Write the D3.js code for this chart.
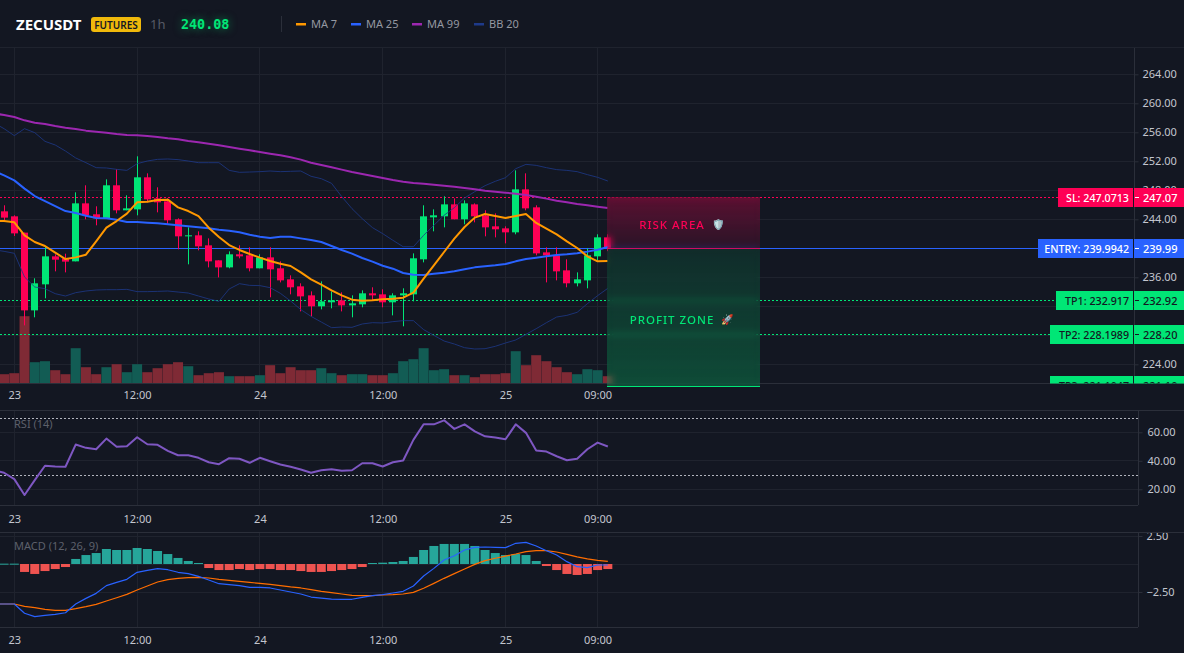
<!DOCTYPE html>
<html>
<head>
<meta charset="utf-8">
<script src="https://cdn.jsdelivr.net/npm/d3@7"></script>
<style>
  html, body { margin: 0; padding: 0; background: #131722; overflow: hidden; }
  #chart { position: relative; width: 1184px; height: 653px; font-family: "Noto Sans", sans-serif; }
  svg { position: absolute; left: 0; top: 0; }
  .zone { position: absolute; backdrop-filter: blur(3px); display: flex; align-items: center; justify-content: center;
          font-size: 11.5px; font-weight: 500; letter-spacing: 1px; white-space: pre; box-sizing: border-box; padding: 3px 4px 0 0; }
  .zone span { font-size: 10px; letter-spacing: 0; margin-left: 7px; }
</style>
</head>
<body>
<div id="chart"></div>
<script>
// hours since 23 00:00, one candle per hour
const hours = d3.range(-2, 59)

const opens = [244.9,245.10,244.41,242.16,231.44,235.03,238.89,238.62,238.20,246.20,244.69,244.13,248.69,245.24,245.37,249.79,246.89,246.48,244.00,241.65,241.79,240.41,238.34,237.37,239.17,239.03,237.24,238.75,237.24,235.72,234.75,233.51,232.00,232.55,232.82,232.13,232.27,233.79,233.65,232.55,233.51,233.65,238.48,244.27,244.41,246.06,244.00,246.06,244.55,243.03,242.75,242.20,248.13,245.65,239.44,239.03,236.96,235.17,235.58,238.89,241.51]
const highs = [245.3,245.93,244.55,242.16,235.86,240.18,239.17,239.26,247.72,248.69,245.79,249.51,250.89,247.31,252.69,250.34,248.41,246.89,244.13,242.89,242.34,241.37,238.34,239.58,240.41,240.13,239.17,240.13,238.20,236.27,235.17,234.06,235.44,234.06,233.93,233.51,234.20,234.62,234.34,233.79,234.48,239.30,245.93,245.37,247.17,246.89,246.62,246.20,245.24,244.82,243.03,250.75,250.34,245.93,240.13,240.13,238.48,236.68,240.00,241.93,241.93]
const lows = [244.6,243.86,241.70,229.37,230.48,233.10,236.82,236.68,238.20,244.00,243.17,244.13,244.82,245.24,244.55,246.34,244.96,243.31,239.86,237.79,239.72,237.37,235.99,237.24,238.62,236.82,237.24,233.24,235.30,233.65,231.30,230.62,231.58,231.72,231.30,230.48,231.86,232.82,231.86,230.75,229.24,232.68,238.06,242.34,242.89,244.00,243.31,243.58,241.65,241.51,240.68,241.93,245.24,239.03,235.30,235.58,234.62,234.75,234.48,238.34,239.60]
const closes = [245.1,244.23,242.06,231.44,235.17,238.89,238.43,238.16,246.20,244.55,244.13,248.69,245.24,245.51,249.79,246.75,246.34,243.86,241.65,241.79,240.27,238.20,237.37,239.17,238.89,237.24,238.75,237.10,235.58,234.62,233.37,232.00,232.68,232.82,232.13,232.41,233.79,233.51,232.55,233.51,233.79,238.62,244.41,244.55,246.06,244.00,246.20,244.41,242.89,242.62,242.20,248.13,245.51,239.30,239.03,236.82,235.17,235.72,239.03,241.51,240.08]
const volumes = [9,9.3,10.3,67.3,21.3,22.3,13.3,9.3,35.3,16.3,9.3,16.3,19.3,11.3,19.3,11.3,15.3,19.3,21.3,17.3,8.3,10.3,11.3,7.3,7.3,7.3,8.3,18.3,10.3,16.3,13.3,13.3,15.3,10.3,8.3,9.3,9.3,8.3,8.3,10.3,22.3,24.3,35.3,13.3,14.3,8.3,8.3,6.3,9.3,9.3,10.3,32.3,18.3,28.3,22.3,16.3,11.3,9.3,14.3,13.3,7.3]

const ma7 = [243.80,243.76,243.58,241.79,240.87,240.32,239.40,238.52,238.75,239.12,240.96,242.85,243.76,244.78,246.34,246.43,246.66,246.71,245.65,245.14,244.45,242.85,241.56,240.45,239.77,239.21,238.71,238.25,237.88,237.56,236.68,235.72,234.98,234.20,233.51,232.91,232.78,232.82,232.96,233.05,233.19,233.88,235.81,237.65,239.49,241.33,242.94,244.23,244.73,244.45,244.18,244.45,244.73,243.49,242.71,241.93,240.96,240.04,238.89,238.20,238.25]
const ma25 = [250.65,250.06,249.37,248.23,247.21,246.52,245.83,245.14,244.87,244.50,244.18,244.13,243.95,243.63,243.63,243.54,243.44,243.31,243.17,243.03,242.89,242.75,242.57,242.43,242.20,241.88,241.60,241.42,241.60,241.60,241.37,241.14,240.87,240.32,239.77,239.26,238.66,238.16,237.60,237.19,236.59,236.36,236.32,236.50,236.64,236.82,237.10,237.37,237.51,237.65,237.83,238.20,238.52,238.71,238.89,239.08,239.17,239.31,239.54,239.81,240.18]
const ma99 = [258.60,258.39,258.11,257.65,257.33,257.15,256.87,256.64,256.46,256.23,256.09,255.95,255.77,255.63,255.58,255.49,255.35,255.17,255.03,254.80,254.62,254.43,254.20,253.97,253.74,253.51,253.28,253.05,252.82,252.55,252.23,251.81,251.49,251.17,250.85,250.52,250.25,249.97,249.70,249.42,249.19,249.01,248.91,248.78,248.64,248.50,248.32,248.13,247.95,247.81,247.67,247.54,247.35,247.12,246.85,246.57,246.34,246.11,245.93,245.74,245.56]
const bbUpper = [257.30,256.50,255.54,256.50,255.95,254.75,254.25,253.42,252.46,251.81,251.12,251.08,250.89,250.75,251.67,252.04,252.27,252.32,252.23,252.04,251.81,251.81,251.81,250.75,250.48,250.52,250.57,250.66,250.57,250.62,250.66,249.93,249.60,248.96,247.12,245.47,244.09,242.85,242.02,241.10,240.22,240.22,241.79,243.17,244.55,245.60,246.94,247.81,248.64,249.24,249.74,250.98,251.58,251.44,251.12,250.85,250.75,250.57,250.16,249.79,249.28]
const bbLower = [239.80,239.58,239.31,236.04,234.66,234.43,233.74,233.42,233.88,234.11,234.25,234.29,234.29,234.34,234.02,234.02,234.06,234.11,233.97,233.83,233.42,233.01,232.68,234.39,235.12,234.89,234.85,234.57,233.79,232.73,231.54,230.61,229.83,229.05,229.14,229.10,229.56,229.74,229.70,229.88,230.02,230.02,228.78,227.99,227.21,226.80,226.29,226.11,226.15,226.48,226.94,227.35,228.13,228.91,229.74,230.52,230.75,231.17,232.36,233.47,234.48]

const rsi = [33.4,31.6,27.15,16.0,26.45,36.5,36.0,35.8,51.4,49.1,48.1,55.6,49.8,50.2,56.5,51.6,51.2,47.0,43.9,43.9,42.1,39.0,37.6,41.8,41.4,38.6,42.1,39.7,37.4,35.8,33.9,31.6,33.4,34.1,33.0,33.4,38.3,38.3,36.0,39.0,40.2,54.7,65.6,65.6,68.4,62.4,65.6,60.7,57.2,56.3,55.1,65.6,59.6,47.2,46.5,43.2,40.4,41.4,48.1,52.8,50.0]

const macd = [-3.57,-3.57,-3.57,-4.40,-4.70,-4.58,-4.49,-4.35,-3.57,-3.07,-2.62,-1.93,-1.64,-1.37,-0.74,-0.57,-0.42,-0.51,-0.74,-0.86,-1.10,-1.43,-1.76,-1.85,-1.93,-2.08,-2.08,-2.14,-2.32,-2.50,-2.68,-2.95,-3.04,-3.13,-3.15,-3.15,-2.98,-2.83,-2.74,-2.59,-2.44,-1.96,-1.07,-0.39,0.36,0.74,1.25,1.49,1.52,1.49,1.46,1.85,1.93,1.61,1.19,0.80,0.21,-0.24,-0.33,-0.09,-0.09]
const signal = [-3.57,-3.57,-3.57,-3.78,-3.90,-4.05,-4.14,-4.14,-3.99,-3.81,-3.60,-3.30,-3.01,-2.71,-2.32,-1.96,-1.61,-1.40,-1.28,-1.22,-1.19,-1.25,-1.37,-1.46,-1.55,-1.64,-1.73,-1.82,-1.93,-2.05,-2.14,-2.29,-2.44,-2.56,-2.68,-2.80,-2.83,-2.83,-2.77,-2.74,-2.68,-2.53,-2.17,-1.73,-1.28,-0.86,-0.45,-0.03,0.30,0.51,0.71,0.89,1.10,1.19,1.19,1.07,0.86,0.63,0.45,0.33,0.24]
const histogram = [0.03,0.03,0.03,-0.71,-0.89,-0.63,-0.45,-0.27,0.45,0.80,0.98,1.34,1.25,1.25,1.43,1.34,1.16,0.89,0.54,0.27,0.09,-0.36,-0.54,-0.54,-0.45,-0.54,-0.45,-0.45,-0.54,-0.54,-0.63,-0.71,-0.71,-0.63,-0.54,-0.45,-0.27,0.09,0.12,0.18,0.27,0.63,1.25,1.61,1.79,1.79,1.79,1.61,1.25,0.98,0.80,0.89,0.80,0.27,-0.18,-0.54,-0.89,-0.98,-0.89,-0.54,-0.45]

const priceGrid = [264,260,256,252,248,244,240,236,232,228,224]
// 240, 232 and 228 sit fully behind the level labels
const priceTicks = [264,260,256,252,248,244,236,224]
const rsiTicks = [60,40,20]
const rsiBands = [70,30]
const macdTicks = [2.5,-2.5]
const timeTicks = [0,12,24,36,48,57]
const timeLabels = ['23','12:00','24','12:00','25','09:00']

const levels = [
  { name: 'SL', value: 247.0713, text: '247.0713', color: '#ff0055', ink: '#fff', dash: '2,2', left: 1058 },
  { name: 'ENTRY', value: 239.9942, text: '239.9942', color: '#2962ff', ink: '#fff', dash: null, left: 1038 },
  { name: 'TP1', value: 232.917, text: '232.917', color: '#00e676', ink: '#131722', dash: '2,2', left: 1056 },
  { name: 'TP2', value: 228.1989, text: '228.1989', color: '#00e676', ink: '#131722', dash: '2,2', left: 1050 },
  { name: 'TP3', value: 221.1047, text: '221.1047', color: '#00e676', ink: '#131722', dash: '2,2', left: 1050 }
]

const legend = [
  { name: 'MA 7', color: '#ff9800', x: 296 },
  { name: 'MA 25', color: '#2962ff', x: 351 },
  { name: 'MA 99', color: '#9c27b0', x: 412 },
  { name: 'BB 20', color: '#1e3a8a', x: 474 }
]

const width = 1184, height = 653
const gridColor = '#1f232e', borderColor = '#2b2f3a', textColor = '#c3c6cf'
const up = '#00e676', down = '#ff0055'

const x = d3.scaleLinear().domain([0, 48]).range([14.3, 505.5])
const yPrice = d3.scaleLinear().domain([264, 224]).range([74.3, 364.3])
const yVol = d3.scaleLinear().domain([0, 68]).range([383.5, 315.5])
const yRsi = d3.scaleLinear().domain([60, 20]).range([432.3, 489.3])
const yMacd = d3.scaleLinear().domain([2.5, -2.5]).range([536, 592])

const snap = v => Math.floor(v) + 0.5
const snapLevel = v => Math.round(yPrice(v)) + 0.5

const chart = d3.select('#chart')
const svg = chart.append('svg').attr('width', width).attr('height', height)

const defs = svg.append('defs')
const addClip = (id, left, w, top, bottom) => defs.append('clipPath').attr('id', id)
  .append('rect').attr('x', left).attr('y', top).attr('width', w).attr('height', bottom - top)
addClip('main-clip', 0, 1134, 48, 383.5)
addClip('rsi-clip', 0, 1138, 411, 505)
addClip('macd-clip', 0, 1138, 533, 627)
addClip('label-clip', 1000, 184, 48, 383.5)
addClip('macd-axis-clip', 1138, 46, 532.5, 627)

// header
const head = svg.append('g').attr('class', 'header')
head.append('line').attr('x1', 0).attr('x2', width).attr('y1', 47.5).attr('y2', 47.5).attr('stroke', gridColor)
head.append('text').attr('x', 16).attr('y', 29.5).attr('fill', '#fff')
  .attr('font-size', 15).attr('font-weight', 700).text('ZECUSDT')
head.append('rect').attr('x', 91).attr('y', 17).attr('width', 50).attr('height', 15).attr('rx', 3).attr('fill', '#f0b90b')
head.append('text').attr('x', 116).attr('y', 28.5).attr('text-anchor', 'middle').attr('fill', '#131722')
  .attr('font-size', 10).attr('font-weight', 600).text('FUTURES')
head.append('text').attr('x', 150).attr('y', 29).attr('fill', '#565a66').attr('font-size', 13).text('1h')
head.append('text').attr('x', 181).attr('y', 29).attr('fill', up)
  .attr('font-family', '"DejaVu Sans Mono", monospace').attr('font-size', 13.4).attr('font-weight', 700)
  .style('text-shadow', '0 0 8px rgba(0,230,118,0.5)').text('240.08')
head.append('line').attr('x1', 281.5).attr('x2', 281.5).attr('y1', 16).attr('y2', 32).attr('stroke', borderColor)

const legendItem = head.selectAll('g.legend').data(legend).join('g').attr('class', 'legend')
legendItem.append('rect').attr('x', d => d.x).attr('y', 23).attr('width', 10).attr('height', 2.5).attr('fill', d => d.color)
legendItem.append('text').attr('x', d => d.x + 15).attr('y', 28).attr('fill', '#9598a1')
  .attr('font-size', 11).text(d => d.name)

// grids
const vGrid = (top, bottom) => svg.append('g').selectAll('line').data(timeTicks).join('line')
  .attr('x1', d => snap(x(d))).attr('x2', d => snap(x(d)))
  .attr('y1', top).attr('y2', bottom).attr('stroke', gridColor)
vGrid(48, 384)
vGrid(411, 505)
vGrid(533, 627)

const hGrid = (ticks, scale, right) => svg.append('g').selectAll('line').data(ticks).join('line')
  .attr('x1', 0).attr('x2', right)
  .attr('y1', d => snap(scale(d))).attr('y2', d => snap(scale(d))).attr('stroke', gridColor)
hGrid(priceGrid, yPrice, 1135)
hGrid(rsiTicks, yRsi, 1139)
hGrid(macdTicks.concat([0]), yMacd, 1139)

// main pane
const main = svg.append('g').attr('clip-path', 'url(#main-clip)')

const bars = hours.map((h, i) => ({ h, open: opens[i], high: highs[i], low: lows[i], close: closes[i], vol: volumes[i] }))
const isUp = d => d.close >= d.open

main.append('g').selectAll('rect').data(bars).join('rect')
  .attr('x', d => x(d.h) - 5).attr('width', 10)
  .attr('y', d => yVol(d.vol)).attr('height', d => yVol(0) - yVol(d.vol))
  .attr('fill', d => isUp(d) ? '#125c54' : '#7f2a35')

// price lines stop at their label on the right
main.append('g').selectAll('line').data(levels).join('line')
  .attr('x1', 0).attr('x2', d => d.left)
  .attr('y1', d => snapLevel(d.value)).attr('y2', d => snapLevel(d.value))
  .attr('stroke', d => d.color).attr('stroke-dasharray', d => d.dash)

const candle = main.append('g').selectAll('g').data(bars).join('g')
candle.append('line')
  .attr('x1', d => snap(x(d.h))).attr('x2', d => snap(x(d.h)))
  .attr('y1', d => yPrice(d.high)).attr('y2', d => yPrice(d.low))
  .attr('stroke', d => isUp(d) ? up : down)
candle.append('rect')
  .attr('x', d => snap(x(d.h)) - 3.5).attr('width', 7)
  .attr('y', d => yPrice(Math.max(d.open, d.close)))
  .attr('height', d => Math.max(1, Math.abs(yPrice(d.open) - yPrice(d.close))))
  .attr('fill', d => isUp(d) ? up : down)

const pricePath = (vals, scale) => d3.line().x((d, i) => x(hours[i])).y(d => scale(d))(vals)

const addLine = (parent, vals, scale, color, w, opacity) => parent.append('path')
  .attr('d', pricePath(vals, scale)).attr('fill', 'none').attr('stroke', color)
  .attr('stroke-width', w).attr('stroke-opacity', opacity === undefined ? 1 : opacity)
  .attr('stroke-linejoin', 'round')

addLine(main, bbUpper, yPrice, '#1e3a8a', 1, 0.8)
addLine(main, bbLower, yPrice, '#1e3a8a', 1, 0.8)
addLine(main, ma99, yPrice, '#9c27b0', 2)
addLine(main, ma25, yPrice, '#2962ff', 2)
addLine(main, ma7, yPrice, '#ff9800', 2)

// rsi pane
const rsiPane = svg.append('g').attr('clip-path', 'url(#rsi-clip)')
rsiPane.append('g').selectAll('line').data(rsiBands).join('line')
  .attr('x1', 0).attr('x2', 1138)
  .attr('y1', d => snap(yRsi(d))).attr('y2', d => snap(yRsi(d)))
  .attr('stroke', '#b2b5be').attr('stroke-dasharray', '2,2')
addLine(rsiPane, rsi, yRsi, '#7e57c2', 2)
svg.append('text').attr('x', 14).attr('y', 428).attr('fill', '#5d606b').attr('font-size', 11).text('RSI (14)')

// macd pane
const macdPane = svg.append('g').attr('clip-path', 'url(#macd-clip)')
macdPane.append('g').selectAll('rect').data(histogram).join('rect')
  .attr('x', (d, i) => x(hours[i]) - 4.5).attr('width', 9)
  .attr('y', d => yMacd(Math.max(d, 0))).attr('height', d => Math.max(1, Math.abs(yMacd(d) - yMacd(0))))
  .attr('fill', d => d >= 0 ? '#26a69a' : '#ef5350')
addLine(macdPane, signal, yMacd, '#ff6d00', 1.2)
addLine(macdPane, macd, yMacd, '#2962ff', 1.2)
svg.append('text').attr('x', 14).attr('y', 550).attr('fill', '#5d606b').attr('font-size', 11).text('MACD (12, 26, 9)')

// axes
const styleAxis = g => {
  g.select('.domain').remove()
  g.selectAll('line').attr('stroke', borderColor)
  g.selectAll('text').attr('fill', textColor).attr('font-family', '"Noto Sans", sans-serif').attr('font-size', 11)
}

const timeAxis = d3.axisBottom(x).tickValues(timeTicks).tickSize(0).tickPadding(0)
  .tickFormat((d, i) => timeLabels[i])
const addTimeAxis = y => svg.append('g').attr('transform', `translate(0,${y})`).call(timeAxis).call(styleAxis)
addTimeAxis(391)
addTimeAxis(515)
addTimeAxis(636)

svg.append('g').attr('transform', 'translate(1134.5,0)')
  .call(d3.axisRight(yPrice).tickValues(priceTicks).tickSize(4).tickPadding(4).tickFormat(d3.format('.2f')))
  .call(styleAxis)
svg.append('g').attr('transform', 'translate(1138.5,0)')
  .call(d3.axisRight(yRsi).tickValues(rsiTicks).tickSize(4).tickPadding(5).tickFormat(d3.format('.2f')))
  .call(styleAxis)
svg.append('g').attr('clip-path', 'url(#macd-axis-clip)')
  .append('g').attr('transform', 'translate(1138.5,0)')
  .call(d3.axisRight(yMacd).tickValues(macdTicks).tickSize(4).tickPadding(4).tickFormat(d3.format('.2f')))
  .call(styleAxis)

// pane borders
const hBorders = [[383.5, width], [410.5, width], [505.5, 1138], [532.5, width], [627.5, 1138]]
svg.append('g').selectAll('line').data(hBorders).join('line')
  .attr('x1', 0).attr('x2', d => d[1]).attr('y1', d => d[0]).attr('y2', d => d[0]).attr('stroke', borderColor)
const vBorders = [[1134.5, 48, 384], [1138.5, 411, 505], [1138.5, 533, 627]]
svg.append('g').selectAll('line').data(vBorders).join('line')
  .attr('x1', d => d[0]).attr('x2', d => d[0]).attr('y1', d => d[1]).attr('y2', d => d[2]).attr('stroke', borderColor)

// level labels
const labels = svg.append('g').attr('clip-path', 'url(#label-clip)')
const label = labels.selectAll('g').data(levels).join('g')
  .attr('transform', d => `translate(0,${snapLevel(d.value)})`)
label.append('rect').attr('x', d => d.left).attr('y', -9.5).attr('width', d => 1133 - d.left).attr('height', 19).attr('fill', d => d.color)
label.append('rect').attr('x', 1134).attr('y', -9.5).attr('width', 50).attr('height', 19).attr('fill', d => d.color)
label.append('line').attr('x1', 1135).attr('x2', 1139).attr('y1', 0).attr('y2', 0).attr('stroke', d => d.ink)
label.append('text').attr('x', 1129).attr('y', 4).attr('text-anchor', 'end').attr('fill', d => d.ink)
  .attr('font-size', 10.7).attr('font-weight', 500).text(d => `${d.name}: ${d.text}`)
label.append('text').attr('x', 1143).attr('y', 4).attr('fill', d => d.ink)
  .attr('font-size', 11).attr('font-weight', 500).text(d => d3.format('.2f')(d.value))

// trade zones sit on top with a blur behind them
const zoneLeft = 607, zoneRight = 760, zoneBottom = 220.85
const sl = levels[0].value, entry = levels[1].value
chart.append('div').attr('class', 'zone')
  .style('left', zoneLeft + 'px').style('width', (zoneRight - zoneLeft) + 'px')
  .style('top', yPrice(sl) + 'px').style('height', (yPrice(entry) - yPrice(sl) + 1) + 'px')
  .style('background', 'linear-gradient(to bottom, rgba(255,0,85,0.3), rgba(255,0,85,0.1))')
  .style('border-bottom', '1px solid rgba(255,0,85,0.7)')
  .style('color', down).html('RISK AREA<span>🛡️</span>')
chart.append('div').attr('class', 'zone')
  .style('left', zoneLeft + 'px').style('width', (zoneRight - zoneLeft) + 'px')
  .style('top', (yPrice(entry) + 1) + 'px').style('height', (yPrice(zoneBottom) - yPrice(entry) - 1) + 'px')
  .style('background', 'linear-gradient(to bottom, rgba(0,230,118,0.1), rgba(0,230,118,0.25))')
  .style('border-bottom', '1px solid ' + up)
  .style('color', up).html('PROFIT ZONE<span>🚀</span>')
</script>
</body>
</html>
